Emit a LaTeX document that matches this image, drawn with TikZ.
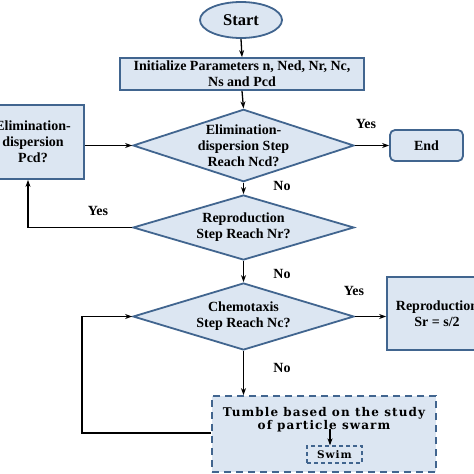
\documentclass[tikz,border=0pt]{standalone}
\usepackage{fontspec}
\setmainfont{Liberation Serif}
\newfontfamily\tumblefont[LetterSpace=9]{DejaVu Serif}
\usetikzlibrary{shapes.geometric,arrows.meta}
\definecolor{boxfill}{HTML}{DCE6F2}
\definecolor{boxline}{HTML}{41658F}
\tikzset{
  base/.style={fill=boxfill,draw=boxline,line width=1.8pt,inner sep=0pt,align=center,
    font=\bfseries\fontsize{14}{16}\selectfont},
  rectbox/.style={base,rectangle},
  ovalbox/.style={base,ellipse},
  decbox/.style={base,diamond,aspect=3},
  dashbox/.style={base,rectangle,dashed,dash pattern=on 7pt off 5pt},
  arr/.style={-{Stealth[length=7pt,width=5pt]},line width=1.3pt,black},
  lbl/.style={font=\bfseries\fontsize{14}{16}\selectfont,inner sep=0pt}
}
\begin{document}
\begin{tikzpicture}[x=1pt,y=-1pt]
\useasboundingbox (0,0) rectangle (474,474);
\clip (0,0) rectangle (474,474);
\fill[white] (0,0) rectangle (474,474);
\node[ovalbox,minimum width=82pt,minimum height=36pt,font=\bfseries\fontsize{16.5}{17}\selectfont] (start) at (241,20) {Start};
\node[rectbox,minimum width=244pt,minimum height=32pt] (init) at (242,74) {Initialize Parameters n, Ned, Nr, Nc,\\Ns and Pcd};
\node[decbox,minimum width=221pt,minimum height=65pt] (d1) at (243.5,145.5) {Elimination-\\dispersion Step\\Reach Ncd?};
\node[rectbox,minimum width=102pt,minimum height=74pt] (elim) at (33,142) {Elimination-\\dispersion\\Pcd?};
\node[rectbox,rounded corners=5pt,minimum width=73pt,minimum height=31pt] (end) at (426.5,145.5) {End};
\node[decbox,minimum width=221pt,minimum height=65pt] (d2) at (243.5,227.5) {Reproduction\\Step Reach Nr?};
\node[decbox,minimum width=221pt,minimum height=67pt] (d3) at (243.5,316.5) {Chemotaxis\\Step Reach Nc?};
\node[rectbox,minimum width=100pt,minimum height=73pt] (repr) at (437,313.5) {Reproduction\\Sr = s/2};
\node[dashbox,minimum width=224pt,minimum height=76pt] (tumble) at (324,434) {};
\node[inner sep=0pt,align=center,font=\tumblefont\bfseries\fontsize{12}{13}\selectfont] (ttext) at (324,420) {Tumble based on the study\\of particle swarm};
\node[dashbox,line width=1.3pt,dash pattern=on 4pt off 3pt,minimum width=55pt,minimum height=17pt,font=\tumblefont\bfseries\fontsize{10.5}{12}\selectfont] (swim) at (334.5,454.5) {Swim};

\draw[arr] (start.south) -- (init.north);
\draw[arr] (init.south) -- (d1.north);
\draw[arr] (elim.east |- d1.west) -- (d1.west);
\draw[arr] (d1.east) -- (end.west);
\draw[arr] (d1.south) -- (d2.north);
\draw[arr] (d2.west) -| (28,0 |- elim.south);
\draw[arr] (d2.south) -- (d3.north);
\draw[arr] (d3.east) -- (repr.west |- d3.east);
\draw[arr] (d3.south) -- (d3.south |- tumble.north);
\coordinate (loopc) at (82,433);
\draw[arr] (tumble.west |- loopc) -- (loopc) |- (d3.west);
\draw[arr] (swim.north -| 330,0) ++(0,-16) -- (swim.north -| 330,0);

\node[lbl] (yes1) at (366,124) {Yes};
\node[lbl] (no1) at (282,186) {No};
\node[lbl] (yes2) at (98,211) {Yes};
\node[lbl] (no2) at (282,274) {No};
\node[lbl] (yes3) at (354,291) {Yes};
\node[lbl] (no3) at (282,368) {No};
\end{tikzpicture}
\end{document}
